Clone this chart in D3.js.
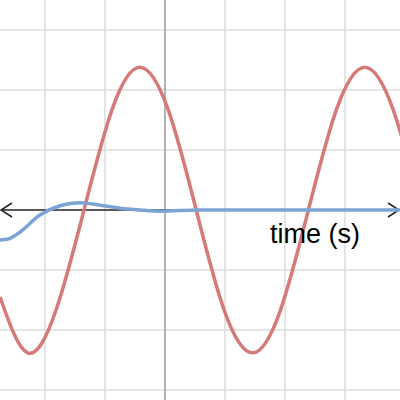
<!DOCTYPE html>
<html>
<head>
<meta charset="utf-8">
<script src="https://cdn.jsdelivr.net/npm/d3@7"></script>
<style>
  body { margin: 0; background: #fff; }
  svg { display: block; }
</style>
</head>
<body>
<div id="chart"></div>
<script>
// values, in grid units (1 grid square = 1 unit)
var redX = [-2.75, -2.29, -1.82, -1.35, -0.88, -0.42, 0.05, 0.52, 0.99, 1.46, 1.92, 2.39, 2.86, 3.33, 3.80, 4.27];
var redY = [-1.45, -2.38, -1.68, 0, 1.68, 2.38, 1.68, 0, -1.68, -2.38, -1.68, 0, 1.68, 2.38, 1.68, 0];
var blueX = [-2.75, -2.6, -2.42, -2.08, -1.75, -1.42, -1.08, -0.75, -0.42, -0.08, 0.58, 1.5, 2.5, 3.92];
var blueY = [-0.5, -0.48, -0.37, -0.08, 0.07, 0.12, 0.08, 0.03, 0, -0.02, 0, 0, 0, 0];
var gridX = [-2, -1, 1, 2, 3];
var gridY = [-3, -2, -1, 1, 2, 3];
var xLabel = 'time (s)';

var width = 400, height = 400;
var x = d3.scaleLinear().domain([-2.75, 3.9167]).range([0, width]);
var y = d3.scaleLinear().domain([-3.1667, 3.5]).range([height, 0]);

var svg = d3.select('#chart').append('svg')
    .attr('width', width).attr('height', height);

// grid
svg.selectAll('.gx').data(gridX).enter().append('line')
    .attr('x1', function(d) { return x(d); }).attr('x2', function(d) { return x(d); })
    .attr('y1', 0).attr('y2', height)
    .attr('stroke', '#dcdcdc').attr('stroke-width', 1.5);
svg.selectAll('.gy').data(gridY).enter().append('line')
    .attr('y1', function(d) { return y(d); }).attr('y2', function(d) { return y(d); })
    .attr('x1', 0).attr('x2', width)
    .attr('stroke', '#dcdcdc').attr('stroke-width', 1.5);

// y axis
svg.append('line')
    .attr('x1', x(0)).attr('x2', x(0)).attr('y1', 0).attr('y2', height)
    .attr('stroke', '#999').attr('stroke-width', 1.5);

// x axis with arrows
svg.append('line')
    .attr('x1', 1).attr('x2', width - 1).attr('y1', y(0)).attr('y2', y(0))
    .attr('stroke', '#222').attr('stroke-width', 1.5);
svg.append('path')
    .attr('d', 'M12,' + (y(0) - 7) + ' L1,' + y(0) + ' L12,' + (y(0) + 7))
    .attr('fill', 'none').attr('stroke', '#222').attr('stroke-width', 1.5);
svg.append('path')
    .attr('d', 'M' + (width - 12) + ',' + (y(0) - 7) + ' L' + (width - 1) + ',' + y(0) + ' L' + (width - 12) + ',' + (y(0) + 7))
    .attr('fill', 'none').attr('stroke', '#222').attr('stroke-width', 1.5);

var line = d3.line()
    .x(function(d) { return x(d[0]); })
    .y(function(d) { return y(d[1]); })
    .curve(d3.curveNatural);

svg.append('path')
    .datum(d3.zip(redX, redY))
    .attr('d', line)
    .attr('fill', 'none').attr('stroke', '#d47a78').attr('stroke-width', 3.5);

svg.append('path')
    .datum(d3.zip(blueX, blueY))
    .attr('d', line.curve(d3.curveMonotoneX))
    .attr('fill', 'none').attr('stroke', '#7ba4d4').attr('stroke-width', 3.5);

svg.append('text')
    .attr('x', 270).attr('y', 243)
    .attr('font-family', 'Liberation Sans, Arial, sans-serif')
    .attr('font-size', 27)
    .attr('fill', '#000')
    .text(xLabel);
</script>
</body>
</html>
